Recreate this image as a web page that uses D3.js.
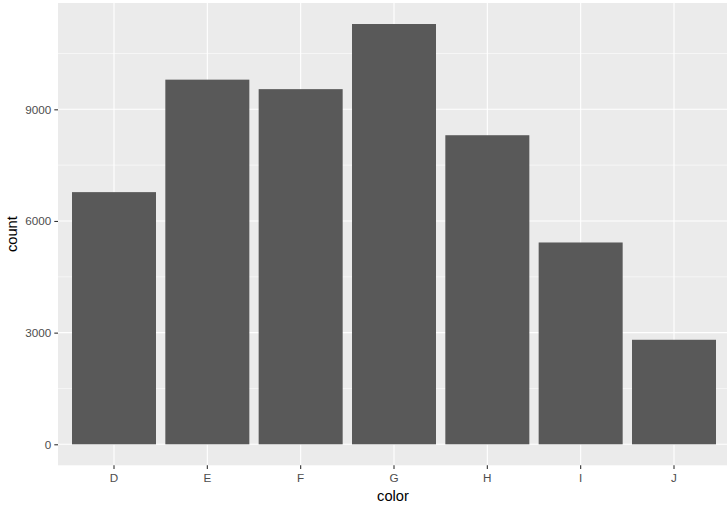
<!DOCTYPE html>
<html>
<head>
<meta charset="utf-8">
<script src="https://cdn.jsdelivr.net/npm/d3@7"></script>
<style>
  html, body { margin: 0; padding: 0; background: #ffffff; }
  svg { display: block; }
</style>
</head>
<body>
<script>
const categories = ["D", "E", "F", "G", "H", "I", "J"];
const counts = [6775, 9797, 9542, 11292, 8304, 5422, 2808];
const yTicks = [0, 3000, 6000, 9000];
const yMinor = [1500, 4500, 7500, 10500];

const W = 727, H = 509;
const panel = { left: 58, top: 3, right: 730, bottom: 465.3 };

const svg = d3.select("body").append("svg").attr("width", W).attr("height", H);

const maxV = d3.max(counts);
const yExp = maxV * 0.05;
const y = d3.scaleLinear().domain([-yExp, maxV + yExp]).range([panel.bottom, panel.top]);

const x = d3.scaleBand().domain(categories)
  .range([panel.left, panel.right])
  .paddingInner(0.1).paddingOuter(0.6 - 0.05);
// Ensure band structure: step-based centers with expand 0.6
const step = (panel.right - panel.left) / (categories.length - 1 + 1.2);
const cx = c => panel.left + step * (0.6 + categories.indexOf(c));

// Panel background
svg.append("rect")
  .attr("x", panel.left).attr("y", panel.top)
  .attr("width", panel.right - panel.left).attr("height", panel.bottom - panel.top)
  .attr("fill", "#EBEBEB");

const g = svg.append("g");
// minor gridlines
g.selectAll(".minor").data(yMinor).enter().append("line")
  .attr("x1", panel.left).attr("x2", panel.right)
  .attr("y1", d => y(d)).attr("y2", d => y(d))
  .attr("stroke", "#ffffff").attr("stroke-width", 0.55);
// major horizontal
g.selectAll(".majorY").data(yTicks).enter().append("line")
  .attr("x1", panel.left).attr("x2", panel.right)
  .attr("y1", d => y(d)).attr("y2", d => y(d))
  .attr("stroke", "#ffffff").attr("stroke-width", 1.1);
// major vertical
g.selectAll(".majorX").data(categories).enter().append("line")
  .attr("x1", d => cx(d)).attr("x2", d => cx(d))
  .attr("y1", panel.top).attr("y2", panel.bottom)
  .attr("stroke", "#ffffff").attr("stroke-width", 1.1);

// bars
const bw = step * 0.9;
g.selectAll(".bar").data(categories).enter().append("rect")
  .attr("x", d => cx(d) - bw / 2)
  .attr("width", bw)
  .attr("y", (d, i) => y(counts[i]))
  .attr("height", (d, i) => y(0) - y(counts[i]))
  .attr("fill", "#595959");

// Y axis
const yAxis = d3.axisLeft(y).tickValues(yTicks).tickSize(3.7).tickPadding(3).tickFormat(d3.format("d"));
const ya = svg.append("g").attr("transform", `translate(${panel.left},0)`).call(yAxis);
ya.select(".domain").remove();
ya.selectAll(".tick line").attr("stroke", "#333333").attr("stroke-width", 1.1);
ya.selectAll(".tick text").attr("fill", "#4D4D4D")
  .style("font-family", "Arial, 'Liberation Sans', sans-serif").style("font-size", "11.7px");

// X axis
const xPos = d3.scaleOrdinal().domain(categories).range(categories.map(cx));
const xa = svg.append("g").attr("transform", `translate(0,${panel.bottom})`);
const xt = xa.selectAll(".tick").data(categories).enter().append("g")
  .attr("class", "tick").attr("transform", d => `translate(${xPos(d)},0)`);
xt.append("line").attr("y1", 0).attr("y2", 3.7).attr("stroke", "#333333").attr("stroke-width", 1.1);
xt.append("text").attr("y", 16.5).attr("text-anchor", "middle").attr("fill", "#4D4D4D")
  .style("font-family", "Arial, 'Liberation Sans', sans-serif").style("font-size", "11.7px")
  .text(d => d);

// Axis titles
svg.append("text")
  .attr("x", (panel.left + 730) / 2 - 1).attr("y", 501)
  .attr("text-anchor", "middle").attr("fill", "#000000")
  .style("font-family", "Arial, 'Liberation Sans', sans-serif").style("font-size", "14.7px")
  .text("color");
svg.append("text")
  .attr("transform", `translate(17,${(panel.top + panel.bottom) / 2}) rotate(-90)`)
  .attr("text-anchor", "middle").attr("fill", "#000000")
  .style("font-family", "Arial, 'Liberation Sans', sans-serif").style("font-size", "14.7px")
  .text("count");
</script>
</body>
</html>
